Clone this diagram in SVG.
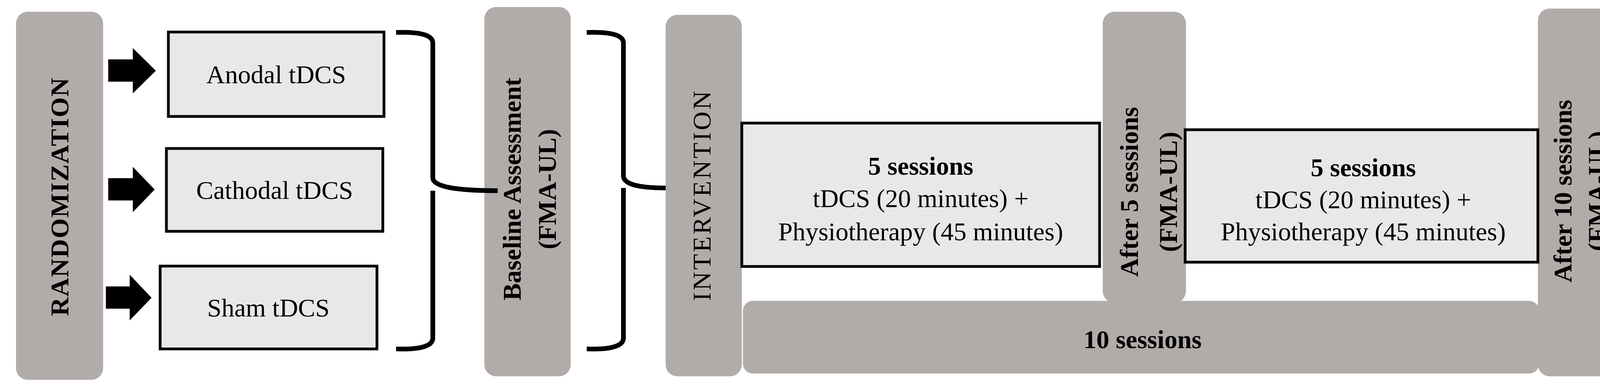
<svg xmlns="http://www.w3.org/2000/svg" width="4197" height="993" viewBox="0 0 4197 993">
<style>
.bar{fill:#b1acaa}
.box{fill:#e8e8e8;stroke:#000;stroke-width:7}
.t{font-family:"Liberation Serif","Times New Roman",serif;font-size:66px;fill:#000;text-anchor:middle;dominant-baseline:central}
.b{font-weight:bold}
.br{fill:none;stroke:#000;stroke-width:12}
</style>
<rect width="4197" height="993" fill="#fff"/>
<g id="randomization"><rect class="bar" x="41" y="30" width="223" height="942" rx="30"/>
<text class="t b" transform="translate(152,503) rotate(-90)" letter-spacing="2">RANDOMIZATION</text></g>
<g id="anodal"><rect class="box" x="431" y="82" width="552" height="216"/><text class="t" x="707" y="190">Anodal tDCS</text></g>
<g id="cathodal"><rect class="box" x="426" y="380" width="554" height="212"/><text class="t" x="703" y="486">Cathodal tDCS</text></g>
<g id="sham"><rect class="box" x="410" y="681" width="555" height="212"/><text class="t" x="687" y="787">Sham tDCS</text></g>
<g id="baseline"><rect class="bar" x="1240" y="18" width="221" height="945" rx="30"/>
<text class="t b" transform="translate(1310,484) rotate(-90)">Baseline Assessment</text>
<text class="t b" transform="translate(1400,484) rotate(-90)">(FMA-UL)</text></g>
<g id="intervention"><rect class="bar" x="1704" y="38" width="195" height="925" rx="30"/>
<text class="t" transform="translate(1796,499) rotate(-90)" letter-spacing="5">INTERVENTION</text></g>
<g id="ten"><rect class="bar" x="1902" y="770" width="2038" height="186" rx="25"/><text class="t b" x="2925" y="868">10 sessions</text></g>
<g id="after5"><rect class="bar" x="2823" y="30" width="213" height="745" rx="30"/>
<text class="t b" transform="translate(2890,491) rotate(-90)">After 5 sessions</text>
<text class="t b" transform="translate(2990,491) rotate(-90)">(FMA-UL)</text></g>
<g id="after10"><rect class="bar" x="3937" y="22" width="223" height="941" rx="30"/>
<text class="t b" transform="translate(4000,489) rotate(-90)">After 10 sessions</text>
<text class="t b" transform="translate(4088,489) rotate(-90)">(FMA-UL)</text></g>
<g id="block1"><rect class="box" x="1899" y="315" width="916" height="367"/>
<text class="t b" x="2357" y="424">5 sessions</text><text class="t" x="2357" y="507">tDCS (20 minutes) +</text><text class="t" x="2357" y="592">Physiotherapy (45 minutes)</text></g>
<g id="block2"><rect class="box" x="3034" y="332" width="903" height="339"/>
<text class="t b" x="3490" y="428">5 sessions</text><text class="t" x="3490" y="510">tDCS (20 minutes) +</text><text class="t" x="3490" y="592">Physiotherapy (45 minutes)</text></g>
<g id="connectors">
<polygon points="277,152 340,152 340,123 399,181 340,239 340,209 277,209"/>
<polygon points="277,456 340,456 340,427 396,485 340,543 340,513 277,513"/>
<polygon points="271,733 332,733 332,703 388,762 332,820 332,790 271,790"/>
<path class="br" d="M1014,83 Q1108,80 1108,110 L1108,455 Q1108,488 1274,488 M1108,488 Q1108,521 1108,540 L1108,865 Q1108,896 1014,893"/>
<path class="br" d="M1502,83 Q1596,80 1596,110 L1596,450 Q1596,481 1704,481 M1596,481 Q1596,512 1596,530 L1596,865 Q1596,896 1502,893"/>
</g>
</svg>
